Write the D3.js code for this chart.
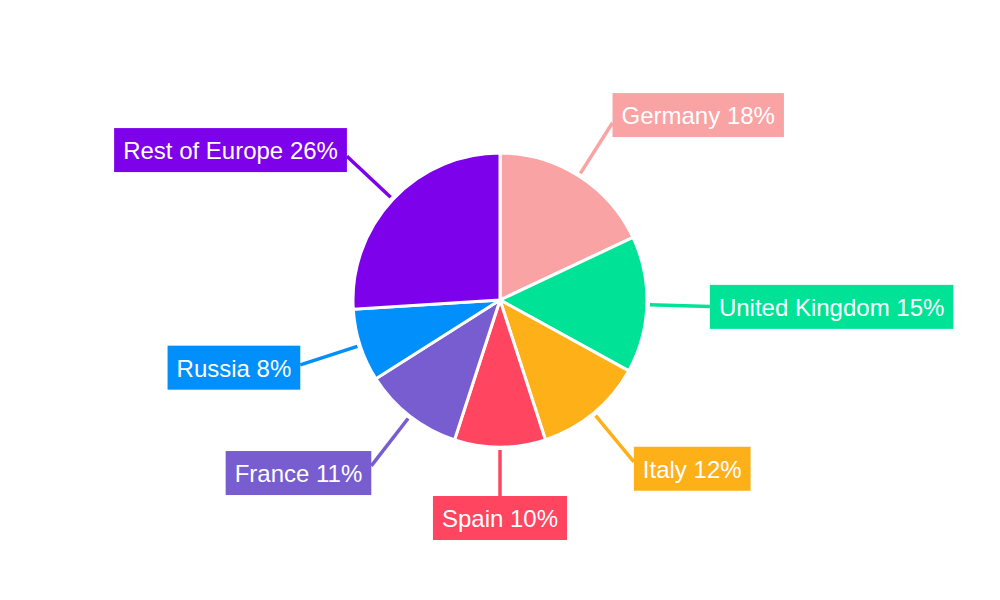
<!DOCTYPE html>
<html>
<head>
<meta charset="utf-8">
<title>Europe share pie</title>
<script src="https://d3js.org/d3.v7.min.js"></script>
<style>
	body {
		margin: 0;
		font-family: "Liberation Sans", Arial, sans-serif;
		background: #fff;
	}

	path.slice {
		stroke: #fff;
		stroke-width: 3px;
	}

	line.leader {
		stroke-width: 3.5px;
	}

	text.label {
		fill: #fff;
		font-size: 24px;
	}
</style>
</head>
<body>
<script>
	var categories = ["Germany", "United Kingdom", "Italy", "Spain", "France", "Russia", "Rest of Europe"];
	var values = [18, 15, 12, 10, 11, 8, 26];
	var colors = ["#f9a3a4", "#00e396", "#feb019", "#ff4560", "#775dd0", "#008ffb", "#7d02eb"];

	var width = 1000,
			height = 600,
			radius = 147;

	var data = categories.map(function(c, i) {
		return { label: c, value: values[i] };
	});

	var color = d3.scaleOrdinal()
			.domain(categories)
			.range(colors);

	var pie = d3.pie()
			.sort(null)
			.value(function(d) { return d.value; });

	var arc = d3.arc()
			.innerRadius(0)
			.outerRadius(radius);

	var svg = d3.select("body").append("svg")
			.attr("width", width)
			.attr("height", height)
		.append("g")
			.attr("transform", "translate(500,300)");

	var arcs = pie(data);

	function midAngle(d) {
		return d.startAngle + (d.endAngle - d.startAngle) / 2;
	}

	// point along the slice's mid direction at radius r
	function polar(d, r) {
		var a = midAngle(d);
		return [Math.sin(a) * r, -Math.cos(a) * r];
	}

	// leader lines go under the slices and boxes
	svg.append("g").selectAll("line")
			.data(arcs)
		.enter().append("line")
			.attr("class", "leader")
			.attr("stroke", function(d) { return color(d.data.label); })
			.attr("x1", function(d) { return polar(d, radius + 3)[0]; })
			.attr("y1", function(d) { return polar(d, radius + 3)[1]; })
			.attr("x2", function(d) { return polar(d, 210)[0]; })
			.attr("y2", function(d) { return polar(d, 210)[1]; });

	svg.append("g").selectAll("path")
			.data(arcs)
		.enter().append("path")
			.attr("class", "slice")
			.attr("fill", function(d) { return color(d.data.label); })
			.attr("d", arc);

	var labels = svg.append("g").selectAll("g")
			.data(arcs)
		.enter().append("g");

	var rects = labels.append("rect")
			.attr("fill", function(d) { return color(d.data.label); });

	var texts = labels.append("text")
			.attr("class", "label")
			.text(function(d) { return d.data.label + " " + d.data.value + "%"; });

	var padX = 9, boxH = 44;

	labels.each(function(d) {
		var g = d3.select(this),
				tw = g.select("text").node().getComputedTextLength(),
				w = tw + padX * 2,
				p = polar(d, 210),
				a = midAngle(d),
				s = Math.sin(a),
				x, cy;

		if (Math.abs(s) < 0.1) {
			// near vertical: centre the box under (or over) the line end
			x = p[0] - w / 2;
			cy = p[1] + (Math.cos(a) < 0 ? 8 : -8);
		} else {
			x = s > 0 ? p[0] : p[0] - w;
			cy = p[1] - Math.cos(a) * 9;
		}

		g.select("rect")
				.attr("x", x)
				.attr("y", cy - boxH / 2)
				.attr("width", w)
				.attr("height", boxH);

		g.select("text")
				.attr("x", x + padX)
				.attr("y", cy + 9);
	});
</script>
</body>
</html>
